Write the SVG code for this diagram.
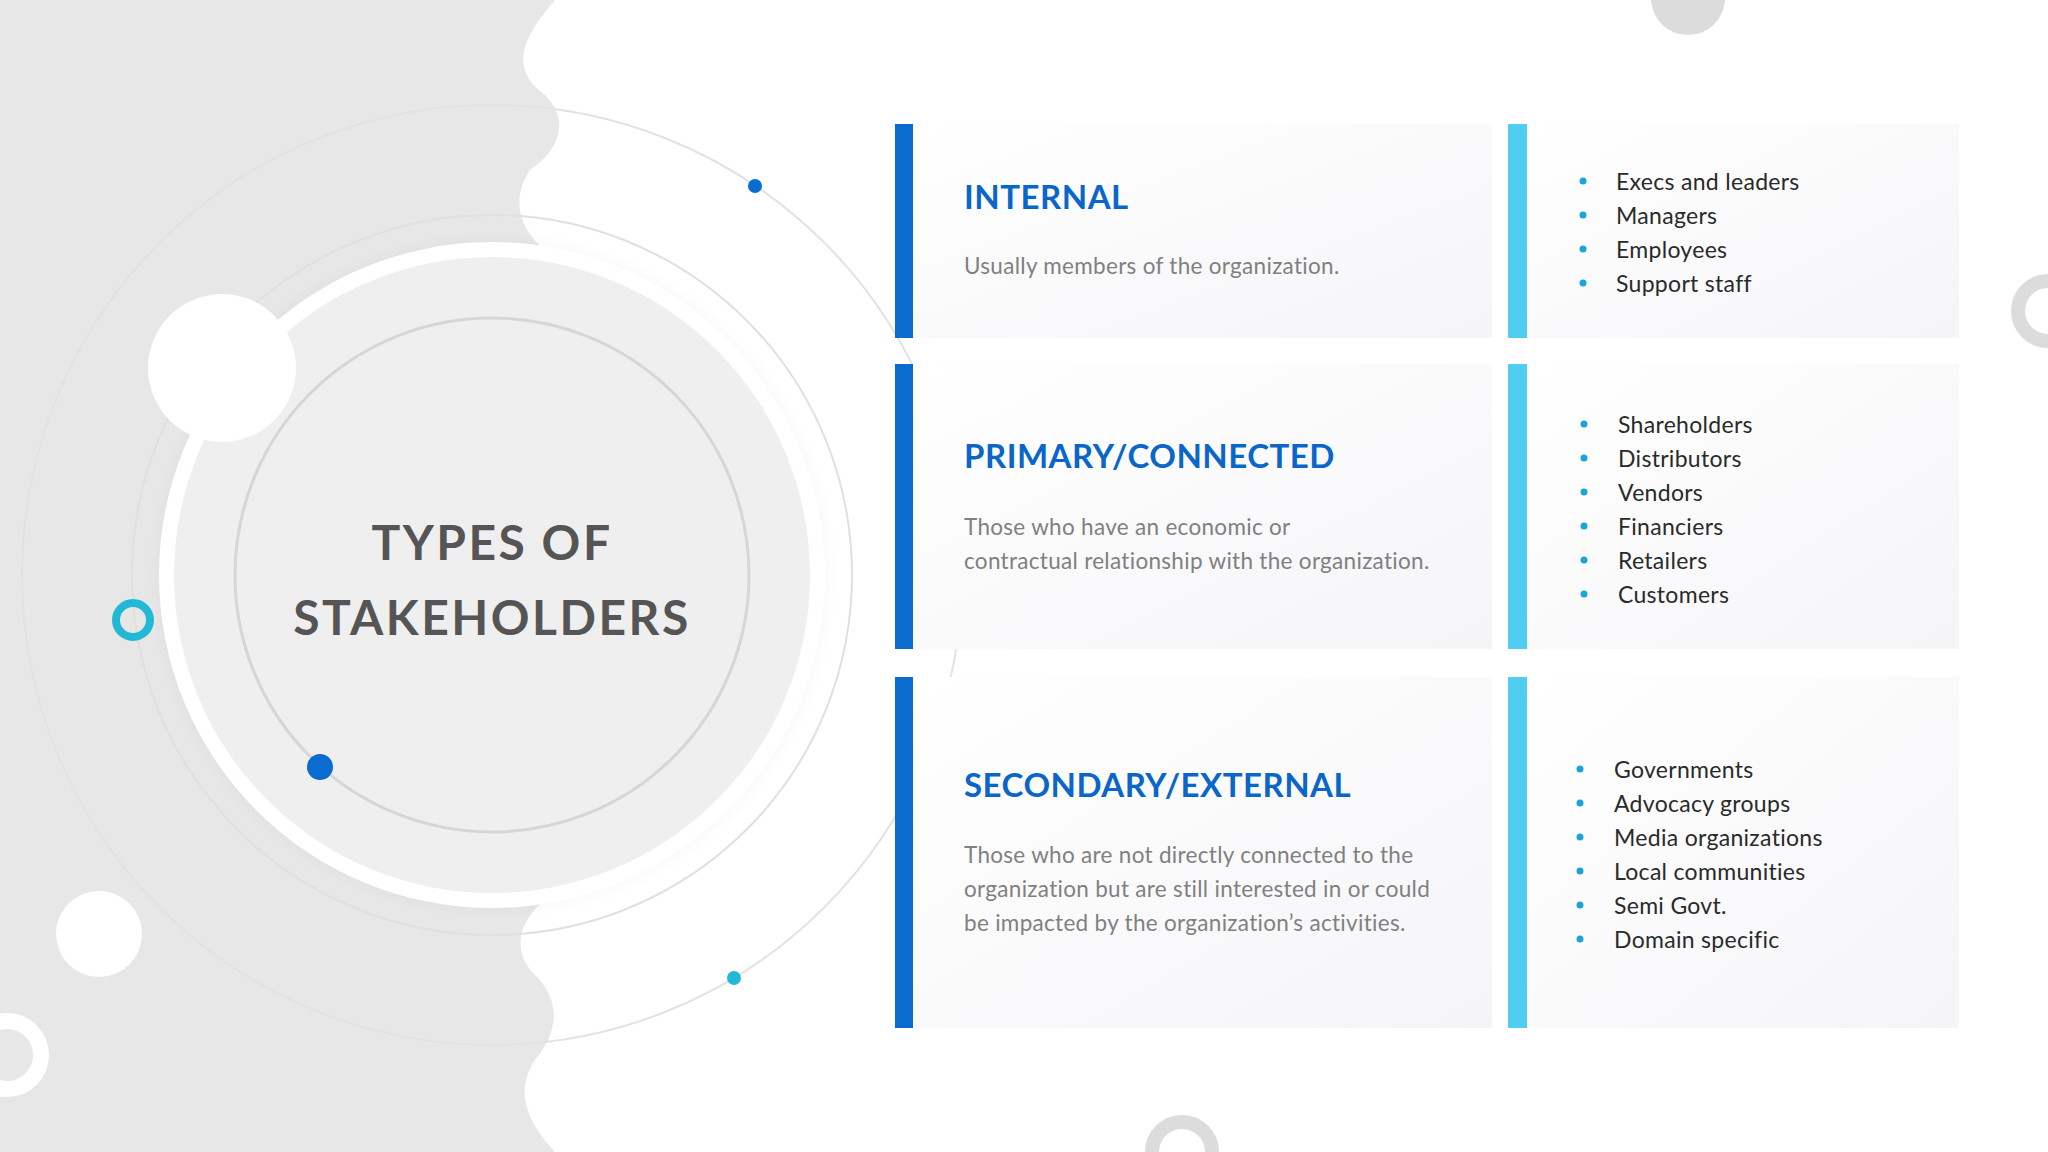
<svg xmlns="http://www.w3.org/2000/svg" width="2048" height="1152" viewBox="0 0 2048 1152">
<defs>
<style>
.t{font-family:Lato,"Noto Sans",sans-serif;font-weight:bold;font-size:33px;fill:#0a66c8;letter-spacing:0.5px}
.d{font-family:Lato,"Noto Sans",sans-serif;font-size:22.5px;fill:#808080;letter-spacing:0.3px}
.b{font-family:Lato,"Noto Sans",sans-serif;font-size:23px;fill:#2a2a2a;letter-spacing:0.3px}
.bu{fill:#1ba3dc}
.card{fill:url(#cg)}
.bar{fill:#0a6ccf}
.lbar{fill:#52cdf2}
</style>
<linearGradient id="cg" x1="0" y1="0" x2="1" y2="1"><stop offset="0" stop-color="#ffffff"/><stop offset="1" stop-color="#f5f5f8"/></linearGradient>
<radialGradient id="g" cx="0.5" cy="0.5" r="0.5"><stop offset="0.85" stop-color="#000" stop-opacity="0.08"/><stop offset="1" stop-color="#000" stop-opacity="0"/></radialGradient>
</defs>
<rect width="2048" height="1152" fill="#ffffff"/>
<g id="background">
<path d="M0 0 H555 C520 40 510 70 545 95 C570 120 560 150 530 170 C510 200 520 230 545 250 L545 900 C520 920 510 950 535 975 C560 1000 560 1030 535 1060 C515 1090 525 1120 555 1152 H0 Z" fill="#e7e7e7"/>
<circle cx="492" cy="575" r="470" fill="none" stroke="#e2e2e2" stroke-width="2"/>
<circle cx="492" cy="575" r="360" fill="none" stroke="#e0e0e0" stroke-width="2"/>
<circle cx="492" cy="575" r="345" fill="url(#g)"/>
<circle cx="492" cy="575" r="333" fill="#ffffff"/>
<circle cx="492" cy="575" r="318" fill="#efefef"/>
<circle cx="492" cy="575" r="257" fill="none" stroke="#d6d6d6" stroke-width="3"/>
<circle cx="222" cy="368" r="74" fill="#ffffff"/>
<circle cx="99" cy="934" r="43" fill="#ffffff"/>
<circle cx="133" cy="620" r="17" fill="none" stroke="#23b8d6" stroke-width="8"/>
<circle cx="320" cy="767" r="13" fill="#0a6ccf"/>
<circle cx="755" cy="186" r="7" fill="#0a6ccf"/>
<circle cx="734" cy="978" r="7" fill="#23b8d6"/>
<circle cx="1688" cy="-2" r="37" fill="#dcdcdc"/>
<circle cx="2048" cy="311" r="30" fill="none" stroke="#dcdcdc" stroke-width="14"/>
<circle cx="1182" cy="1152" r="30" fill="none" stroke="#dcdcdc" stroke-width="14"/>
<circle cx="7" cy="1055" r="34" fill="none" stroke="#ffffff" stroke-width="16"/>
<text x="492" y="560" text-anchor="middle" font-family="Lato,'Noto Sans',sans-serif" font-weight="bold" font-size="48" fill="#555" letter-spacing="2.5">TYPES OF</text>
<text x="492" y="635" text-anchor="middle" font-family="Lato,'Noto Sans',sans-serif" font-weight="bold" font-size="48" fill="#555" letter-spacing="2.5">STAKEHOLDERS</text>
</g>
<g id="internal">
<rect class="card" x="913" y="124" width="579" height="214"/>
<rect class="bar" x="895" y="124" width="18" height="214"/>
<text class="t" x="964" y="209">INTERNAL</text>
<text class="d" x="964" y="274">Usually members of the organization.</text>
<rect class="card" x="1527" y="124" width="432" height="214"/>
<rect class="lbar" x="1508" y="124" width="19" height="214"/>
<g class="b"><text x="1616" y="190">Execs and leaders</text><text x="1616" y="224">Managers</text><text x="1616" y="258">Employees</text><text x="1616" y="292">Support staff</text></g>
<g class="bu"><circle cx="1583" cy="181" r="3.5"/><circle cx="1583" cy="215" r="3.5"/><circle cx="1583" cy="249" r="3.5"/><circle cx="1583" cy="283" r="3.5"/></g>
</g>
<g id="primary">
<rect class="card" x="913" y="364" width="579" height="285"/>
<rect class="bar" x="895" y="364" width="18" height="285"/>
<text class="t" x="964" y="468">PRIMARY/CONNECTED</text>
<text class="d" x="964" y="535">Those who have an economic or</text>
<text class="d" x="964" y="569">contractual relationship with the organization.</text>
<rect class="card" x="1527" y="364" width="432" height="285"/>
<rect class="lbar" x="1508" y="364" width="19" height="285"/>
<g class="b"><text x="1618" y="433">Shareholders</text><text x="1618" y="467">Distributors</text><text x="1618" y="501">Vendors</text><text x="1618" y="535">Financiers</text><text x="1618" y="569">Retailers</text><text x="1618" y="603">Customers</text></g>
<g class="bu"><circle cx="1584" cy="424" r="3.5"/><circle cx="1584" cy="458" r="3.5"/><circle cx="1584" cy="492" r="3.5"/><circle cx="1584" cy="526" r="3.5"/><circle cx="1584" cy="560" r="3.5"/><circle cx="1584" cy="594" r="3.5"/></g>
</g>
<g id="secondary">
<rect class="card" x="913" y="677" width="579" height="351"/>
<rect class="bar" x="895" y="677" width="18" height="351"/>
<text class="t" x="964" y="797">SECONDARY/EXTERNAL</text>
<text class="d" x="964" y="863">Those who are not directly connected to the</text>
<text class="d" x="964" y="897">organization but are still interested in or could</text>
<text class="d" x="964" y="931">be impacted by  the organization’s activities.</text>
<rect class="card" x="1527" y="677" width="432" height="351"/>
<rect class="lbar" x="1508" y="677" width="19" height="351"/>
<g class="b"><text x="1614" y="778">Governments</text><text x="1614" y="812">Advocacy groups</text><text x="1614" y="846">Media organizations</text><text x="1614" y="880">Local communities</text><text x="1614" y="914">Semi Govt.</text><text x="1614" y="948">Domain specific</text></g>
<g class="bu"><circle cx="1580" cy="769" r="3.5"/><circle cx="1580" cy="803" r="3.5"/><circle cx="1580" cy="837" r="3.5"/><circle cx="1580" cy="871" r="3.5"/><circle cx="1580" cy="905" r="3.5"/><circle cx="1580" cy="939" r="3.5"/></g>
</g>
<g id="connectors"></g>
</svg>
